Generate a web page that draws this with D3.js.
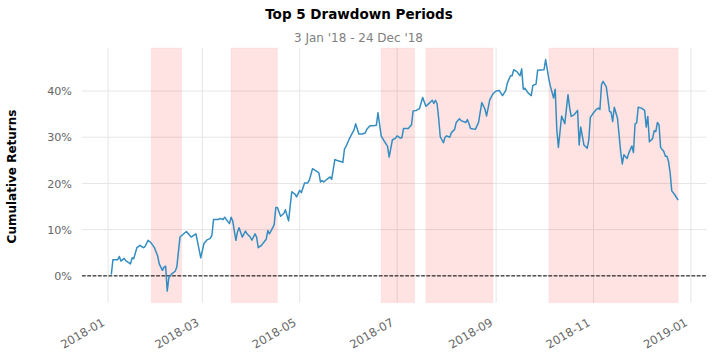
<!DOCTYPE html>
<html>
<head>
<meta charset="utf-8">
<script src="https://cdn.jsdelivr.net/npm/d3@7"></script>
<style>
  body { margin: 0; background: #fff; }
  svg { display: block; font-family: "DejaVu Sans", sans-serif; }
</style>
</head>
<body>
<svg id="chart" width="712" height="356"></svg>
<script>
const titleText = "Top 5 Drawdown Periods";
const subtitleText = "3 Jan '18 - 24 Dec '18";
const yLabelText = "Cumulative Returns";

const dates = [
"2018-01-03","2018-01-04","2018-01-07","2018-01-08","2018-01-09","2018-01-11","2018-01-12","2018-01-15","2018-01-16","2018-01-17",
"2018-01-19","2018-01-21","2018-01-23","2018-01-24","2018-01-26","2018-01-28","2018-01-30","2018-02-01","2018-02-02","2018-02-04",
"2018-02-05","2018-02-06","2018-02-07","2018-02-08","2018-02-10","2018-02-12","2018-02-13","2018-02-15","2018-02-17","2018-02-19",
"2018-02-22","2018-02-25","2018-02-28","2018-03-02","2018-03-04","2018-03-06","2018-03-07","2018-03-08","2018-03-11","2018-03-12",
"2018-03-14","2018-03-15","2018-03-16","2018-03-18","2018-03-19","2018-03-20","2018-03-22","2018-03-23","2018-03-24","2018-03-26",
"2018-03-28","2018-03-29","2018-03-31","2018-04-01","2018-04-03","2018-04-04","2018-04-05","2018-04-07","2018-04-09","2018-04-10",
"2018-04-11","2018-04-12","2018-04-14","2018-04-15","2018-04-16","2018-04-17","2018-04-19","2018-04-21","2018-04-22","2018-04-24",
"2018-04-26","2018-04-28","2018-04-29","2018-05-01","2018-05-02","2018-05-04","2018-05-06","2018-05-07","2018-05-09","2018-05-10",
"2018-05-13","2018-05-14","2018-05-15","2018-05-16","2018-05-18","2018-05-20","2018-05-21","2018-05-23","2018-05-24","2018-05-26",
"2018-05-28","2018-05-29","2018-05-30","2018-06-01","2018-06-02","2018-06-04","2018-06-05","2018-06-07","2018-06-09","2018-06-11",
"2018-06-12","2018-06-14","2018-06-16","2018-06-18","2018-06-19","2018-06-21","2018-06-23","2018-06-25","2018-06-26","2018-06-28",
"2018-06-30","2018-07-01","2018-07-03","2018-07-04","2018-07-05","2018-07-08","2018-07-10","2018-07-11","2018-07-13","2018-07-15",
"2018-07-17","2018-07-19","2018-07-20","2018-07-23","2018-07-24","2018-07-25","2018-07-26","2018-07-27","2018-07-28","2018-07-30",
"2018-07-31","2018-08-01","2018-08-03","2018-08-04","2018-08-06","2018-08-07","2018-08-09","2018-08-10","2018-08-13","2018-08-14",
"2018-08-15","2018-08-16","2018-08-19","2018-08-21","2018-08-23","2018-08-25","2018-08-26","2018-08-28","2018-08-30","2018-09-01",
"2018-09-03","2018-09-05","2018-09-07","2018-09-08","2018-09-10","2018-09-11","2018-09-12","2018-09-14","2018-09-16","2018-09-17",
"2018-09-18","2018-09-19","2018-09-21","2018-09-23","2018-09-24","2018-09-26","2018-09-27","2018-10-01","2018-10-02","2018-10-04",
"2018-10-05","2018-10-07","2018-10-08","2018-10-09","2018-10-10","2018-10-12","2018-10-14","2018-10-16","2018-10-17","2018-10-18",
"2018-10-20","2018-10-22","2018-10-23","2018-10-24","2018-10-26","2018-10-27","2018-10-28","2018-10-29","2018-10-30","2018-11-01",
"2018-11-03","2018-11-04","2018-11-05","2018-11-06","2018-11-07","2018-11-09","2018-11-10","2018-11-11","2018-11-12","2018-11-13",
"2018-11-14","2018-11-16","2018-11-17","2018-11-18","2018-11-19","2018-11-20","2018-11-22","2018-11-23","2018-11-25","2018-11-26",
"2018-11-27","2018-11-28","2018-11-29","2018-12-01","2018-12-03","2018-12-04","2018-12-05","2018-12-06","2018-12-08","2018-12-09",
"2018-12-10","2018-12-11","2018-12-12","2018-12-13","2018-12-15","2018-12-16","2018-12-17","2018-12-18","2018-12-19","2018-12-20",
"2018-12-22","2018-12-24"
];

// cumulative returns, in percent
const returnsPct = [
0.3,3.5,3.5,4.2,3.2,3.8,3.3,2.6,3.9,3.7,
6.1,6.6,6.1,6.3,7.7,7.1,6.1,4.3,2.6,1.2,
1.9,2.1,-3.3,-0.4,0.5,1.0,1.9,8.4,9.0,9.6,
8.4,9.1,3.9,7.0,7.8,8.1,8.8,12.2,12.2,12.4,
12.2,12.7,12.2,11.3,12.7,11.9,7.7,9.5,10.4,8.4,
9.7,9.1,8.4,7.7,9.1,8.4,6.1,6.6,7.5,7.9,
9.8,9.1,10.4,11.1,14.8,14.8,12.9,13.5,14.3,11.9,
18.2,17.7,17.1,18.5,18.0,20.1,20.1,20.7,23.2,23.0,
22.3,20.3,20.6,20.3,20.9,21.4,20.9,25.2,25.0,24.8,
24.6,27.4,28.0,29.6,30.3,31.6,32.9,30.7,30.7,30.9,
31.7,32.5,32.5,32.6,35.3,30.3,29.1,28.0,25.7,29.4,
29.8,30.3,29.8,29.9,31.9,31.9,32.7,35.7,35.8,36.2,
38.6,36.7,37.0,38.0,37.3,38.0,37.3,34.1,30.1,28.8,
30.0,30.3,30.0,31.0,31.7,33.2,34.0,33.6,33.2,33.8,
32.9,31.9,31.7,33.2,37.5,36.1,34.6,38.1,39.4,40.0,
40.1,39.0,40.1,41.7,43.3,43.3,44.6,44.2,43.3,44.8,
40.4,40.6,39.6,39.0,41.2,41.5,44.5,44.6,46.8,42.6,
41.0,38.5,40.4,31.6,27.8,34.6,32.9,39.2,36.5,34.5,
34.9,35.8,28.3,32.2,28.3,28.0,27.6,29.3,34.3,35.3,
36.1,36.3,36.0,41.4,42.1,40.9,38.3,35.6,35.4,33.4,
36.5,34.1,30.5,26.9,24.2,26.2,25.4,26.5,28.1,26.7,
32.9,33.1,36.5,36.3,35.8,32.2,34.5,29.0,29.7,31.4,
31.2,33.2,32.7,27.8,26.9,25.9,25.9,24.7,22.2,18.4,
17.5,16.4
];

const drawdownStarts = ["2018-01-28","2018-03-19","2018-06-21","2018-07-19","2018-10-04"];
const drawdownEnds   = ["2018-02-16","2018-04-17","2018-07-12","2018-08-30","2018-12-24"];

const yTicks = [0, 10, 20, 30, 40];
const xTickDates = ["2018-01-01","2018-03-01","2018-05-01","2018-07-01","2018-09-01","2018-11-01","2019-01-01"];

const parse = d3.timeParse("%Y-%m-%d");
const data = dates.map((d, i) => ({ date: parse(d), value: returnsPct[i] }));
const spans = drawdownStarts.map((s, i) => ({ start: parse(s), end: parse(drawdownEnds[i]) }));

const plot = { left: 83, right: 706.5, top: 48, bottom: 302.7 };

const svg = d3.select("#chart");

// x scale with 5% padding like matplotlib
const xExt = d3.extent(data, d => d.date);
const xPad = (xExt[1] - xExt[0]) * 0.05;
const x = d3.scaleTime()
  .domain([new Date(+xExt[0] - xPad), new Date(+xExt[1] + xPad)])
  .range([plot.left, plot.right]);

const yExt = d3.extent(data, d => d.value);
const yPad = (yExt[1] - yExt[0]) * 0.05;
const y = d3.scaleLinear()
  .domain([yExt[0] - yPad, yExt[1] + yPad])
  .range([plot.bottom, plot.top]);

// grid
const grid = svg.append("g");
grid.selectAll("line.h").data(yTicks).enter().append("line")
  .attr("x1", plot.left - 1).attr("x2", plot.right)
  .attr("y1", d => y(d)).attr("y2", d => y(d))
  .attr("stroke", "#e6e6e6").attr("stroke-width", 1);
grid.selectAll("line.v").data(xTickDates.map(parse)).enter().append("line")
  .attr("x1", d => x(d)).attr("x2", d => x(d))
  .attr("y1", plot.top).attr("y2", plot.bottom)
  .attr("stroke", "#e6e6e6").attr("stroke-width", 1);

// drawdown spans
svg.append("g").selectAll("rect").data(spans).enter().append("rect")
  .attr("x", d => x(d.start))
  .attr("width", d => x(d.end) - x(d.start))
  .attr("y", plot.top)
  .attr("height", plot.bottom - plot.top)
  .attr("fill", "rgb(255,0,0)").attr("fill-opacity", 0.11)
  .attr("stroke", "rgb(255,0,0)").attr("stroke-opacity", 0.05).attr("stroke-width", 1);

// zero line
svg.append("line")
  .attr("x1", plot.left - 1).attr("x2", plot.right)
  .attr("y1", y(0)).attr("y2", y(0))
  .attr("stroke", "#000").attr("stroke-width", 1)
  .attr("stroke-dasharray", "3.7,1.6");

// series line
const line = d3.line().x(d => x(d.date)).y(d => y(d.value));
svg.append("path").datum(data)
  .attr("d", line)
  .attr("fill", "none")
  .attr("stroke", "#348dc1")
  .attr("stroke-width", 1.5)
  .attr("stroke-linejoin", "round");

// y axis labels
const yAxis = d3.axisLeft(y).tickValues(yTicks).tickSize(0).tickPadding(11)
  .tickFormat(d => d + "%");
const yG = svg.append("g").attr("transform", `translate(${plot.left},0)`).call(yAxis);
yG.select(".domain").remove();
yG.selectAll("text").attr("fill", "#666").attr("font-size", 11.2)
  .attr("font-family", "DejaVu Sans");

// x axis labels
const fmt = d3.timeFormat("%Y-%m");
const xAxis = d3.axisBottom(x).tickValues(xTickDates.map(parse)).tickSize(0).tickFormat(fmt);
const xG = svg.append("g").attr("transform", `translate(0,${plot.bottom})`).call(xAxis);
xG.select(".domain").remove();
xG.selectAll("text")
  .attr("fill", "#666").attr("font-size", 11.6).attr("font-family", "DejaVu Sans")
  .attr("text-anchor", "end")
  .attr("y", 0).attr("dy", 0)
  .attr("transform", "translate(-3,22) rotate(-30)");

// titles
svg.append("text").attr("x", 359).attr("y", 18.5)
  .attr("text-anchor", "middle").attr("font-size", 13.5).attr("font-weight", "bold")
  .attr("fill", "#000").text(titleText);
svg.append("text").attr("x", 358.5).attr("y", 42)
  .attr("text-anchor", "middle").attr("font-size", 12)
  .attr("fill", "#808080").text(subtitleText);

svg.append("text")
  .attr("transform", "translate(16,176.5) rotate(-90)")
  .attr("text-anchor", "middle").attr("font-size", 12).attr("font-weight", "bold")
  .attr("fill", "#000").text(yLabelText);
</script>
</body>
</html>
